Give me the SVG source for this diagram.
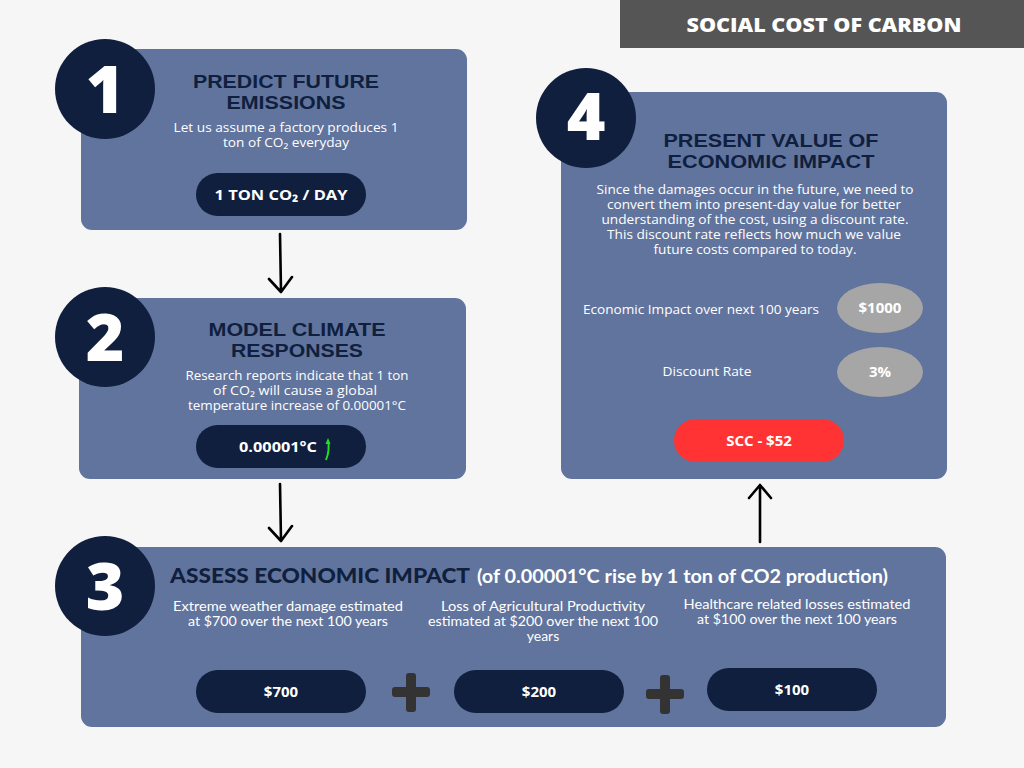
<svg xmlns="http://www.w3.org/2000/svg" width="1024" height="768" viewBox="0 0 1024 768">
<style>
.box{fill:#61749d}
.circ{fill:#0f1f3d}
.num{font-family:"Open Sans","Liberation Sans",sans-serif;font-weight:800;font-size:66px;fill:#ffffff;text-anchor:middle}
.title{font-family:"Liberation Sans",Arial,sans-serif;font-weight:700;font-size:18px;fill:#0f1f3d;text-anchor:middle}
.body{font-family:"Open Sans","Liberation Sans",sans-serif;font-size:12.5px;fill:#ffffff;text-anchor:middle}
.cond{font-family:"Lato","Liberation Sans",sans-serif;font-size:14px;fill:#ffffff;text-anchor:middle}
.pill{fill:#0f1f3d}
.ptxt{font-family:"Open Sans","Liberation Sans",sans-serif;font-weight:700;font-size:15px;fill:#ffffff;text-anchor:middle}
.arrow{fill:none;stroke:#000000;stroke-width:2.6;stroke-linecap:round;stroke-linejoin:round}
.plus{fill:#333333}
</style>
<rect width="1024" height="768" fill="#f6f6f6"/>
<g id="header">
<rect x="620" y="0" width="404" height="48" fill="#555555"/>
<text x="824" y="32" font-family="'Open Sans', 'Liberation Sans', sans-serif" font-weight="800" font-size="20" fill="#ffffff" text-anchor="middle" textLength="275" lengthAdjust="spacingAndGlyphs">SOCIAL COST OF CARBON</text>
</g>
<g id="connectors">
<path class="arrow" d="M280 234 L281 291 M269 279 L281 292 L292 277"/>
<path class="arrow" d="M280 484 L281 540 M269 528 L281 541 L292 526"/>
<path class="arrow" d="M760 542 L760 486 M749 498 L760 485 L771 498"/>
</g>
<g id="step1">
<rect class="box" x="81" y="49" width="386" height="181" rx="11"/>
<circle class="circ" cx="105" cy="89" r="50"/>
<text class="num" x="105" y="113">1</text>
<text class="title"><tspan x="286" y="88" textLength="186" lengthAdjust="spacingAndGlyphs">PREDICT FUTURE</tspan><tspan x="286" y="109" textLength="119" lengthAdjust="spacingAndGlyphs">EMISSIONS</tspan></text>
<text class="body"><tspan x="286" y="132" textLength="225" lengthAdjust="spacingAndGlyphs">Let us assume a factory produces 1</tspan><tspan x="286" y="147" textLength="126" lengthAdjust="spacingAndGlyphs">ton of CO₂ everyday</tspan></text>
<rect class="pill" x="196" y="173" width="170" height="43" rx="21.5"/>
<text class="ptxt" x="281" y="200" textLength="133" lengthAdjust="spacingAndGlyphs">1 TON CO₂ / DAY</text>
</g>
<g id="step2">
<rect class="box" x="79" y="298" width="387" height="181" rx="11"/>
<circle class="circ" cx="105" cy="337" r="50"/>
<text class="num" x="105" y="361">2</text>
<text class="title"><tspan x="297" y="336" textLength="177" lengthAdjust="spacingAndGlyphs">MODEL CLIMATE</tspan><tspan x="297" y="357" textLength="132" lengthAdjust="spacingAndGlyphs">RESPONSES</tspan></text>
<text class="body"><tspan x="297" y="380" textLength="223" lengthAdjust="spacingAndGlyphs">Research reports indicate that 1 ton</tspan><tspan x="295" y="395" textLength="164" lengthAdjust="spacingAndGlyphs">of CO₂ will cause a global</tspan><tspan x="297" y="410" textLength="218" lengthAdjust="spacingAndGlyphs">temperature increase of 0.00001°C</tspan></text>
<rect class="pill" x="196" y="425" width="170" height="43" rx="21.5"/>
<text class="ptxt" x="278" y="452" textLength="78" lengthAdjust="spacingAndGlyphs">0.00001°C</text>
<path d="M326 460 Q330 450 328 440" fill="none" stroke="#22dd22" stroke-width="2"/>
<path d="M325.5 444 L328 438 L330.5 444 Z" fill="#22dd22"/>
</g>
<g id="step3">
<rect class="box" x="81" y="547" width="865" height="180" rx="11"/>
<circle class="circ" cx="105" cy="586" r="50"/>
<text class="num" x="105" y="610">3</text>
<text x="170" y="583" font-family="Lato, 'Liberation Sans', sans-serif" font-weight="900" font-size="21" fill="#0f1f3d" textLength="300" lengthAdjust="spacingAndGlyphs">ASSESS ECONOMIC IMPACT</text>
<text x="477" y="583" font-family="Lato, 'Liberation Sans', sans-serif" font-weight="700" font-size="18" fill="#ffffff" textLength="411" lengthAdjust="spacingAndGlyphs">(of 0.00001°C rise by 1 ton of CO2 production)</text>
<text class="cond"><tspan x="288" y="611" textLength="230" lengthAdjust="spacingAndGlyphs">Extreme weather damage estimated</tspan><tspan x="288" y="626" textLength="200" lengthAdjust="spacingAndGlyphs">at $700 over the next 100 years</tspan></text>
<text class="cond"><tspan x="543" y="611" textLength="204" lengthAdjust="spacingAndGlyphs">Loss of Agricultural Productivity</tspan><tspan x="543" y="626" textLength="230" lengthAdjust="spacingAndGlyphs">estimated at $200 over the next 100</tspan><tspan x="543" y="641">years</tspan></text>
<text class="cond"><tspan x="797" y="609" textLength="227" lengthAdjust="spacingAndGlyphs">Healthcare related losses estimated</tspan><tspan x="797" y="624" textLength="200" lengthAdjust="spacingAndGlyphs">at $100 over the next 100 years</tspan></text>
<rect class="pill" x="196" y="670" width="170" height="43" rx="21.5"/>
<text class="ptxt" x="281" y="697">$700</text>
<rect class="plus" x="392" y="687" width="38" height="10" rx="3"/>
<rect class="plus" x="406" y="673" width="10" height="39" rx="3"/>
<rect class="pill" x="454" y="670" width="170" height="43" rx="21.5"/>
<text class="ptxt" x="539" y="697">$200</text>
<rect class="plus" x="646" y="689" width="38" height="10" rx="3"/>
<rect class="plus" x="660" y="675" width="10" height="39" rx="3"/>
<rect class="pill" x="707" y="668" width="170" height="43" rx="21.5"/>
<text class="ptxt" x="792" y="695">$100</text>
</g>
<g id="step4">
<rect class="box" x="561" y="92" width="386" height="387" rx="11"/>
<circle class="circ" cx="586" cy="118" r="50"/>
<text class="num" x="586" y="140">4</text>
<text class="title"><tspan x="771" y="147" textLength="215" lengthAdjust="spacingAndGlyphs">PRESENT VALUE OF</tspan><tspan x="771" y="168" textLength="207" lengthAdjust="spacingAndGlyphs">ECONOMIC IMPACT</tspan></text>
<text class="body"><tspan x="755" y="194" textLength="317" lengthAdjust="spacingAndGlyphs">Since the damages occur in the future, we need to</tspan><tspan x="754" y="209" textLength="294" lengthAdjust="spacingAndGlyphs">convert them into present-day value for better</tspan><tspan x="755" y="224" textLength="307" lengthAdjust="spacingAndGlyphs">understanding of the cost, using a discount rate.</tspan><tspan x="754" y="239" textLength="294" lengthAdjust="spacingAndGlyphs">This discount rate reflects how much we value</tspan><tspan x="755" y="254" textLength="203" lengthAdjust="spacingAndGlyphs">future costs compared to today.</tspan></text>
<text class="body" x="701" y="314" textLength="236" lengthAdjust="spacingAndGlyphs">Economic Impact over next 100 years</text>
<ellipse cx="880" cy="308" rx="43" ry="25" fill="#a6a6a6"/>
<text class="ptxt" x="880" y="313">$1000</text>
<text class="body" x="707" y="376" textLength="89" lengthAdjust="spacingAndGlyphs">Discount Rate</text>
<ellipse cx="880" cy="372" rx="43" ry="25" fill="#a6a6a6"/>
<text class="ptxt" x="880" y="377">3%</text>
<rect x="674" y="419" width="170" height="43" rx="21.5" fill="#ff3333"/>
<text class="ptxt" x="759" y="446">SCC - $52</text>
</g>
</svg>
